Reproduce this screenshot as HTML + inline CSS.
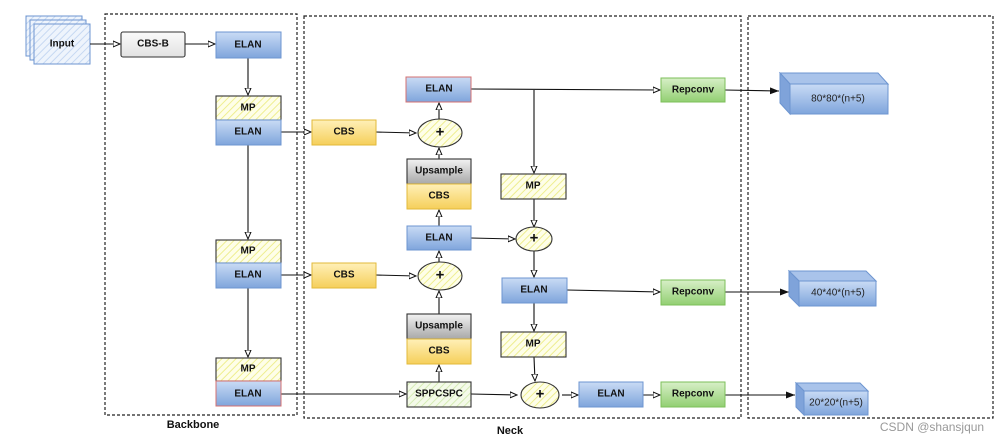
<!DOCTYPE html>
<html><head><meta charset="utf-8"><style>
html,body{margin:0;padding:0;background:#fff;}
svg{display:block;font-family:"Liberation Sans",sans-serif;}
.t{font-size:10px;font-weight:bold;text-anchor:middle;dominant-baseline:central;fill:#111;}
.p{font-size:15px;font-weight:bold;text-anchor:middle;dominant-baseline:central;fill:#111;}
.o{font-size:10px;text-anchor:middle;dominant-baseline:central;fill:#222;}
.b{stroke:#333;stroke-width:1.1;}
.l{stroke:#111;stroke-width:1.1;fill:none;}
</style></head><body>
<svg width="1004" height="444" viewBox="0 0 1004 444">
<defs>
<linearGradient id="blue" x1="0" y1="0" x2="0" y2="1"><stop offset="0" stop-color="#c9dbf5"/><stop offset="1" stop-color="#7fa5dc"/></linearGradient>
<linearGradient id="yel" x1="0" y1="0" x2="0" y2="1"><stop offset="0" stop-color="#fff0b8"/><stop offset="1" stop-color="#f5cf5a"/></linearGradient>
<linearGradient id="gry" x1="0" y1="0" x2="0" y2="1"><stop offset="0" stop-color="#f2f2f2"/><stop offset="1" stop-color="#a8a8a8"/></linearGradient>
<linearGradient id="lgry" x1="0" y1="0" x2="0" y2="1"><stop offset="0" stop-color="#fafafa"/><stop offset="1" stop-color="#e2e2e2"/></linearGradient>
<linearGradient id="grn" x1="0" y1="0" x2="0" y2="1"><stop offset="0" stop-color="#d7efc7"/><stop offset="1" stop-color="#92cf72"/></linearGradient>
<pattern id="hy" width="5" height="5" patternUnits="userSpaceOnUse" patternTransform="rotate(45)"><rect width="5" height="5" fill="#fefee8"/><line x1="0" y1="0" x2="0" y2="5" stroke="#eeee90" stroke-width="2"/></pattern>
<pattern id="hg" width="5" height="5" patternUnits="userSpaceOnUse" patternTransform="rotate(45)"><rect width="5" height="5" fill="#f4fae9"/><line x1="0" y1="0" x2="0" y2="5" stroke="#d5ebb5" stroke-width="2"/></pattern>
<pattern id="hb" width="5" height="5" patternUnits="userSpaceOnUse" patternTransform="rotate(45)"><rect width="5" height="5" fill="#eef4fc"/><line x1="0" y1="0" x2="0" y2="5" stroke="#c6d8f2" stroke-width="2"/></pattern>
<marker id="ah" markerWidth="8" markerHeight="8" refX="7" refY="4" orient="auto" markerUnits="userSpaceOnUse"><path d="M0,1 L7,4 L0,7 Z" fill="#fff" stroke="#111" stroke-width="1"/></marker>
<marker id="af" markerWidth="10" markerHeight="8" refX="9" refY="4" orient="auto" markerUnits="userSpaceOnUse"><path d="M0,0.5 L9,4 L0,7.5 Z" fill="#111"/></marker>
</defs>

<rect x="105" y="14" width="192" height="401" fill="none" stroke="#222" stroke-width="1.2" stroke-dasharray="3,2"/>
<rect x="304" y="16" width="437" height="402" fill="none" stroke="#222" stroke-width="1.2" stroke-dasharray="3,2"/>
<rect x="748" y="16" width="245" height="402" fill="none" stroke="#222" stroke-width="1.2" stroke-dasharray="3,2"/>
<text x="193" y="425" class="t" style="font-size:11px">Backbone</text>
<text x="510" y="431" class="t" style="font-size:11px">Neck</text>
<text x="932" y="427" style="font-size:12px;fill:#999;text-anchor:middle;dominant-baseline:central">CSDN @shansjqun</text>

<rect x="26" y="16" width="56" height="40" fill="url(#hb)" stroke="#6d95d0"/>
<rect x="30" y="20" width="56" height="40" fill="url(#hb)" stroke="#6d95d0"/>
<rect x="34" y="24" width="56" height="40" fill="url(#hb)" stroke="#6d95d0"/>
<text x="62" y="44" class="t">Input</text>

<g class="l">
<line x1="90" y1="44" x2="120" y2="44" marker-end="url(#ah)"/>
<line x1="185" y1="44" x2="215" y2="44" marker-end="url(#ah)"/>
<line x1="248" y1="58" x2="248" y2="95" marker-end="url(#ah)"/>
<line x1="248" y1="145" x2="248" y2="239" marker-end="url(#ah)"/>
<line x1="248" y1="288" x2="248" y2="357" marker-end="url(#ah)"/>
<line x1="281" y1="132" x2="311" y2="132" marker-end="url(#ah)"/>
<line x1="281" y1="275" x2="311" y2="275" marker-end="url(#ah)"/>
<line x1="281" y1="394" x2="406" y2="394" marker-end="url(#ah)"/>
<line x1="376" y1="132" x2="416" y2="133" marker-end="url(#ah)"/>
<line x1="376" y1="275" x2="416" y2="276" marker-end="url(#ah)"/>
<line x1="439" y1="382" x2="439" y2="365" marker-end="url(#ah)"/>
<line x1="439" y1="314" x2="439" y2="291" marker-end="url(#ah)"/>
<line x1="439" y1="262" x2="439" y2="251" marker-end="url(#ah)"/>
<line x1="439" y1="226" x2="439" y2="210" marker-end="url(#ah)"/>
<line x1="439" y1="159" x2="439" y2="148" marker-end="url(#ah)"/>
<line x1="439" y1="119" x2="439" y2="103" marker-end="url(#ah)"/>
<line x1="471" y1="89" x2="660" y2="90" marker-end="url(#ah)"/>
<line x1="534" y1="90" x2="534" y2="173" marker-end="url(#ah)"/>
<line x1="534" y1="199" x2="534" y2="227" marker-end="url(#ah)"/>
<line x1="471" y1="238" x2="515" y2="239" marker-end="url(#ah)"/>
<line x1="534" y1="251" x2="534" y2="277" marker-end="url(#ah)"/>
<line x1="567" y1="290" x2="660" y2="292" marker-end="url(#ah)"/>
<line x1="534" y1="303" x2="534" y2="331" marker-end="url(#ah)"/>
<line x1="534" y1="357" x2="535" y2="381" marker-end="url(#ah)"/>
<line x1="471" y1="394" x2="517" y2="395" marker-end="url(#ah)"/>
<line x1="562" y1="395" x2="578" y2="395" marker-end="url(#ah)"/>
<line x1="643" y1="395" x2="660" y2="395" marker-end="url(#ah)"/>
<line x1="725" y1="90" x2="779" y2="91" marker-end="url(#af)"/>
<line x1="725" y1="292" x2="789" y2="292" marker-end="url(#af)"/>
<line x1="725" y1="395" x2="795" y2="395" marker-end="url(#af)"/>
</g>

<rect x="121" y="32" width="64" height="25" rx="2" fill="url(#lgry)" class="b"/><text x="153" y="44" class="t">CBS-B</text>
<rect x="216" y="32" width="65" height="26" fill="url(#blue)" stroke="#6d95d0"/><text x="248" y="45" class="t">ELAN</text>
<rect x="216" y="96" width="65" height="24" fill="url(#hy)" class="b"/><text x="248" y="108" class="t">MP</text>
<rect x="216" y="120" width="65" height="25" fill="url(#blue)" stroke="#6d95d0"/><text x="248" y="132" class="t">ELAN</text>
<rect x="216" y="240" width="65" height="23" fill="url(#hy)" class="b"/><text x="248" y="251" class="t">MP</text>
<rect x="216" y="263" width="65" height="25" fill="url(#blue)" stroke="#6d95d0"/><text x="248" y="275" class="t">ELAN</text>
<rect x="216" y="358" width="65" height="23" fill="url(#hy)" class="b"/><text x="248" y="369" class="t">MP</text>
<rect x="216" y="381" width="65" height="25" fill="url(#blue)" stroke="#d47070"/><text x="248" y="394" class="t">ELAN</text>

<rect x="312" y="120" width="64" height="25" fill="url(#yel)" stroke="#e2b93a"/><text x="344" y="132" class="t">CBS</text>
<rect x="312" y="263" width="64" height="25" fill="url(#yel)" stroke="#e2b93a"/><text x="344" y="275" class="t">CBS</text>
<rect x="406" y="77" width="65" height="25" fill="url(#blue)" stroke="#d47070"/><text x="439" y="89" class="t">ELAN</text>
<ellipse cx="440" cy="133" rx="22" ry="14" fill="url(#hy)" class="b"/><text x="440" y="132" class="p">+</text>
<rect x="407" y="159" width="64" height="25" fill="url(#gry)" class="b"/><text x="439" y="171" class="t">Upsample</text>
<rect x="407" y="184" width="64" height="25" fill="url(#yel)" stroke="#e2b93a"/><text x="439" y="196" class="t">CBS</text>
<rect x="407" y="226" width="64" height="24" fill="url(#blue)" stroke="#6d95d0"/><text x="439" y="238" class="t">ELAN</text>
<ellipse cx="440" cy="276" rx="22" ry="14" fill="url(#hy)" class="b"/><text x="440" y="275" class="p">+</text>
<rect x="407" y="314" width="64" height="25" fill="url(#gry)" class="b"/><text x="439" y="326" class="t">Upsample</text>
<rect x="407" y="339" width="64" height="25" fill="url(#yel)" stroke="#e2b93a"/><text x="439" y="351" class="t">CBS</text>
<rect x="407" y="382" width="64" height="25" fill="url(#hg)" class="b"/><text x="439" y="394" class="t">SPPCSPC</text>

<rect x="501" y="174" width="65" height="25" fill="url(#hy)" class="b"/><text x="533" y="186" class="t">MP</text>
<ellipse cx="534" cy="239" rx="18" ry="12" fill="url(#hy)" class="b"/><text x="534" y="238" class="p">+</text>
<rect x="502" y="278" width="65" height="25" fill="url(#blue)" stroke="#6d95d0"/><text x="534" y="290" class="t">ELAN</text>
<rect x="501" y="332" width="65" height="25" fill="url(#hy)" class="b"/><text x="533" y="344" class="t">MP</text>
<ellipse cx="540" cy="395" rx="19" ry="13" fill="url(#hy)" class="b"/><text x="540" y="394" class="p">+</text>
<rect x="579" y="382" width="64" height="25" fill="url(#blue)" stroke="#6d95d0"/><text x="611" y="394" class="t">ELAN</text>
<rect x="661" y="78" width="64" height="24" fill="url(#grn)" stroke="#7cbf5a"/><text x="693" y="90" class="t">Repconv</text>
<rect x="661" y="280" width="64" height="25" fill="url(#grn)" stroke="#7cbf5a"/><text x="693" y="292" class="t">Repconv</text>
<rect x="661" y="382" width="64" height="25" fill="url(#grn)" stroke="#7cbf5a"/><text x="693" y="394" class="t">Repconv</text>

<g stroke="#6d95d0">
<path d="M780,73 L878,73 L888,84 L790,84 Z" fill="#a9c3ea"/>
<path d="M780,73 L790,84 L790,114 L780,103 Z" fill="#7fa3da"/>
<rect x="790" y="84" width="98" height="30" fill="url(#blue)"/>
<path d="M789,271 L866,271 L876,281 L799,281 Z" fill="#a9c3ea"/>
<path d="M789,271 L799,281 L799,306 L789,296 Z" fill="#7fa3da"/>
<rect x="799" y="281" width="77" height="25" fill="url(#blue)"/>
<path d="M796,383 L860,383 L868,391 L804,391 Z" fill="#a9c3ea"/>
<path d="M796,383 L804,391 L804,415 L796,407 Z" fill="#7fa3da"/>
<rect x="804" y="391" width="64" height="24" fill="url(#blue)"/>
</g>
<text x="838" y="99" class="o">80*80*(n+5)</text>
<text x="838" y="293" class="o">40*40*(n+5)</text>
<text x="836" y="403" class="o">20*20*(n+5)</text>
</svg>
</body></html>
